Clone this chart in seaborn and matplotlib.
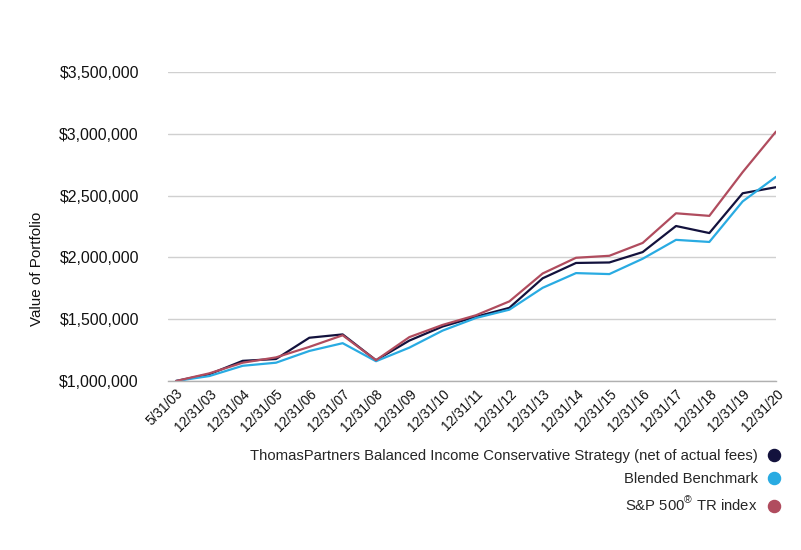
import matplotlib
matplotlib.use("Agg")
import matplotlib.pyplot as plt
from matplotlib.lines import Line2D
from matplotlib.ticker import FuncFormatter
import seaborn as sns
import pandas as pd

dates = ["5/31/03", "12/31/03", "12/31/04", "12/31/05", "12/31/06", "12/31/07",
         "12/31/08", "12/31/09", "12/31/10", "12/31/11", "12/31/12", "12/31/13",
         "12/31/14", "12/31/15", "12/31/16", "12/31/17", "12/31/18", "12/31/19",
         "12/31/20"]

strategy = [1000000, 1055000, 1163000, 1178000, 1350000, 1377000, 1168000, 1327000,
            1441000, 1520000, 1592000, 1831000, 1955000, 1959000, 2043000, 2254000,
            2197000, 2519000, 2568000]
benchmark = [1000000, 1040000, 1123000, 1148000, 1243000, 1306000, 1160000, 1270000,
             1408000, 1510000, 1577000, 1754000, 1873000, 1865000, 1989000, 2142000,
             2125000, 2453000, 2652000]
sp500 = [1000000, 1062000, 1148000, 1191000, 1276000, 1370000, 1168000, 1355000,
         1454000, 1532000, 1644000, 1870000, 1997000, 2013000, 2117000, 2357000,
         2336000, 2690000, 3018000]

names = ["ThomasPartners Balanced Income Conservative Strategy (net of actual fees)",
         "Blended Benchmark",
         "S&P 500\u00ae TR index"]
legend_labels = [names[0], names[1], r"S&P 500$^{\circledR}$ TR index"]
colors = ["#13123d", "#29abe2", "#b04c5e"]

rows = []
for name, vals in zip(names, [strategy, benchmark, sp500]):
    for i, v in enumerate(vals):
        rows.append({"idx": i, "value": v, "series": name})
df = pd.DataFrame(rows)

sns.set_theme(style="white")
plt.rcParams["font.family"] = ["Liberation Sans", "DejaVu Sans"]
plt.rcParams["mathtext.fontset"] = "custom"
plt.rcParams["mathtext.rm"] = "Liberation Sans"

fig = plt.figure(figsize=(8.01, 5.5), dpi=100)
ax = fig.add_axes([168 / 801, 1 - 381 / 550, (776 - 168) / 801, (381 - 72) / 550])

sns.lineplot(data=df, x="idx", y="value", hue="series", hue_order=names,
             palette=dict(zip(names, colors)), linewidth=1.6, ax=ax, legend=False,
             sort=False)

ax.set_xlim(-0.24, 18.0)
ax.set_ylim(1000000, 3500000)
ax.set_yticks([1000000, 1500000, 2000000, 2500000, 3000000, 3500000])
ax.yaxis.set_major_formatter(FuncFormatter(lambda v, p: "${:,.0f}".format(v)))
ax.set_xticks(range(len(dates)))
ax.set_xticklabels(dates, rotation=45, ha="right", rotation_mode="anchor", fontsize=9.8,
                   color="#111111")
ax.tick_params(axis="y", length=0, pad=20.9, labelsize=11.4, labelcolor="#111111")
ax.tick_params(axis="x", length=0, pad=4)
ax.grid(axis="y", color="#d0d0d0", linewidth=1)
ax.grid(axis="x", visible=False)
for s in ["top", "right", "left"]:
    ax.spines[s].set_visible(False)
ax.spines["bottom"].set_color("#b0b0b0")
ax.spines["bottom"].set_linewidth(1)
ax.set_xlabel("")
ax.set_ylabel("Value of Portfolio", fontsize=10.9, color="#111111")
ax.yaxis.set_label_coords(-124 / 608, 0.362)

handles = [Line2D([], [], marker="o", linestyle="", color=c, markersize=8.7) for c in colors]
fig.legend(handles, legend_labels, loc="upper right", bbox_to_anchor=(780 / 801, 1 - 449 / 550),
           markerfirst=False, frameon=False, fontsize=10.7, handletextpad=0.68,
           labelspacing=0.62, handlelength=0.82, borderaxespad=0, borderpad=0)

fig.savefig("out.png", dpi=100)
